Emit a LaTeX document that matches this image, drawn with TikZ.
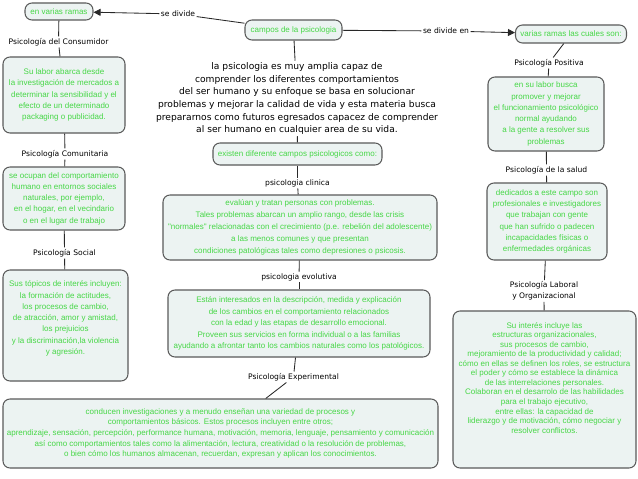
\documentclass[tikz,border=0pt]{standalone}
\usepackage{fontspec}
\newfontfamily\negrofont{DejaVu Sans}
\newfontfamily\verdefont{Liberation Sans}
\definecolor{cmVerde}{RGB}{70,215,70}
\definecolor{cmFondo}{RGB}{236,243,242}
\definecolor{cmBorde}{RGB}{90,90,90}
\definecolor{cmLinea}{RGB}{40,40,40}
\usetikzlibrary{arrows.meta}
\tikzset{
  concepto/.style={rectangle, rounded corners=5pt, draw=cmBorde, line width=0.75pt, fill=cmFondo, text=cmVerde, align=center, inner sep=1pt, font=\verdefont\fontsize{5.7}{#1}\selectfont},
  concepto/.default=8,
  caja/.style 2 args={minimum width=#1*0.025cm, minimum height=#2*0.025cm},
  enlace/.style={align=center, inner sep=1pt, text=black, font=\negrofont\fontsize{5.4}{9}\selectfont},
  linea/.style={draw=cmLinea, line width=0.6pt},
  flecha/.style={linea, -{Triangle[length=5pt, width=5pt]}},
}

\begin{document}
\begin{tikzpicture}[x=0.025cm, y=-0.025cm]
  \fill[white] (0,0) rectangle (638,479);
  \useasboundingbox (0,0) rectangle (638,479);

  % top row
  \node[concepto, caja={68}{17}] (ramas) at (59, 11.5) {en varias ramas};
  \node[concepto, caja={97}{20}] (campos) at (293.5, 30) {campos de la psicologia};
  \node[concepto, caja={111}{18}] (varias) at (571, 34) {varias ramas las cuales son:};
  \node[enlace, fill=white] (sediv) at (178, 14) {se divide};
  \node[enlace, fill=white] (sedivEn) at (446, 31) {se divide en};

  % left column
  \node[enlace] (lConsumidor) at (58.5, 42) {Psicología del Consumidor};
  \node[concepto, caja={122}{76}] (consumidor) at (64, 95) {Su labor abarca desde\\la investigación de mercados a\\determinar la sensibilidad y el\\efecto de un determinado\\packaging o publicidad.};
  \node[enlace] (lComunitaria) at (65, 154) {Psicología Comunitaria};
  \node[concepto, caja={122}{63}] (comunitaria) at (64, 198.5) {se ocupan del comportamiento\\humano en entornos sociales\\naturales, por ejemplo,\\en el hogar, en el vecindario\\o en el lugar de trabajo};
  \node[enlace] (lSocial) at (64.5, 253) {Psicología Social};
  \node[concepto, caja={125}{111}] (social) at (65.5, 325.5) {Sus tópicos de interés incluyen:\\la formación de actitudes,\\los procesos de cambio,\\de atracción, amor y amistad,\\los prejuicios\\y la discriminación,la violencia\\y agresión.\\[3pt]\mbox{}};

  % center column
  \node[enlace, font=\negrofont\fontsize{6.5}{9}\selectfont] (parrafo) at (297, 98.5) {la psicologia es muy amplia capaz de\\comprender los diferentes comportamientos\\del ser humano y su enfoque se basa en solucionar\\problemas y mejorar la calidad de vida y esta materia busca\\prepararnos como futuros egresados capacez de comprender\\al ser humano en cualquier area de su vida.};
  \node[concepto, caja={169}{22}] (existen) at (297.5, 154) {existen diferente campos psicologicos como:};
  \node[enlace] (lClinica) at (297.5, 183) {psicologia clinica};
  \node[concepto=8.4, caja={274}{65}] (clinica) at (300, 227.5) {evalúan y tratan personas con problemas.\\Tales problemas abarcan un amplio rango, desde las crisis\\"normales" relacionadas con el crecimiento (p.e. rebelión del adolescente)\\a las menos comunes y que presentan\\condiciones patológicas tales como depresiones o psicosis.};
  \node[enlace] (lEvolutiva) at (299, 277) {psicologia evolutiva};
  \node[concepto=8.2, caja={262}{67}] (evolutiva) at (299, 323.5) {Están interesados en la descripción, medida y explicación\\de los cambios en el comportamiento relacionados\\con la edad y las etapas de desarrollo emocional.\\Proveen sus servicios en forma individual o a las familias\\ayudando a afrontar tanto los cambios naturales como los patológicos.};
  \node[enlace] (lExperimental) at (293.5, 377) {Psicología Experimental};
  \node[concepto=7.6, caja={435}{69}] (experimental) at (220.5, 433.5) {conducen investigaciones y a menudo enseñan una variedad de procesos y\\comportamientos básicos. Estos procesos incluyen entre otros;\\aprendizaje, sensación, percepción, performance humana, motivación, memoria, lenguaje, pensamiento y comunicación\\así como comportamientos tales como la alimentación, lectura, creatividad o la resolución de problemas,\\o bien cómo los humanos almacenan, recuerdan, expresan y aplican los conocimientos.};

  % right column
  \node[enlace] (lPositiva) at (549, 63) {Psicología Positiva};
  \node[concepto, caja={116}{74}] (positiva) at (546, 114) {en su labor busca\\promover y mejorar\\el funcionamiento psicológico\\normal ayudando\\a la gente a resolver sus\\problemas};
  \node[enlace] (lSalud) at (546.5, 170) {Psicología de la salud};
  \node[concepto, caja={120}{77}] (salud) at (547, 221.5) {dedicados a este campo son\\profesionales e investigadores\\que trabajan con gente\\que han sufrido o padecen\\incapacidades físicas o\\enfermedades orgánicas};
  \node[enlace, font=\negrofont\fontsize{5.4}{7.5}\selectfont] (lLaboral) at (544, 291) {Psicología Laboral\\y Organizacional};
  \node[concepto=6.8, caja={183}{157}] (laboral) at (544.5, 389.5) {Su interés incluye las\\estructuras organizacionales,\\sus procesos de cambio,\\mejoramiento de la productividad y calidad;\\cómo en ellas se definen los roles, se estructura\\el poder y cómo se establece la dinámica\\de las interrelaciones personales.\\Colaboran en el desarrolo de las habilidades\\para el trabajo ejecutivo,\\entre ellas: la capacidad de\\liderazgo y de motivación, cómo negociar y\\resolver conflictos.\\[10pt]\mbox{}};

  \foreach \a/\b in {ramas/lConsumidor, lConsumidor/consumidor, consumidor/lComunitaria, lComunitaria/comunitaria, comunitaria/lSocial, lSocial/social, campos/sediv, campos/sedivEn, campos/parrafo, parrafo/existen, existen/lClinica, lClinica/clinica, clinica/lEvolutiva, lEvolutiva/evolutiva, evolutiva/lExperimental, lExperimental/experimental, varias/lPositiva, lPositiva/positiva, positiva/lSalud, lSalud/salud, salud/lLaboral, lLaboral/laboral} {
    \draw[linea] (\a) -- (\b);
  }
  \draw[flecha] (sediv) -- (ramas);
  \draw[flecha] (sedivEn) -- (varias);
\end{tikzpicture}
\end{document}
